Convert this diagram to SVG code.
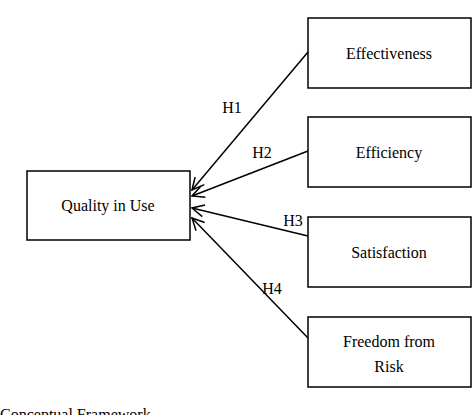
<svg xmlns="http://www.w3.org/2000/svg" width="474" height="415" viewBox="0 0 474 415">
<defs>
<style>
.b{fill:#fff;stroke:#000;stroke-width:1.5}
.t{font-family:"Liberation Serif",serif;font-size:16px;fill:#000;text-anchor:middle}
.c{stroke:#000;stroke-width:1.5;fill:none;marker-end:url(#a)}
</style>
<marker id="a" viewBox="0 0 14 14" refX="13" refY="7" markerWidth="14" markerHeight="14" markerUnits="userSpaceOnUse" orient="auto">
<path d="M1,1 L13,7 L1,13" fill="none" stroke="#000" stroke-width="1.5"/>
</marker>
</defs>
<g id="quality"><rect class="b" x="27" y="171" width="163" height="69"/><text class="t" x="108" y="211">Quality in Use</text></g>
<g id="effectiveness"><rect class="b" x="308" y="18" width="163" height="70"/><text class="t" x="389" y="59">Effectiveness</text></g>
<g id="efficiency"><rect class="b" x="308" y="117" width="163" height="70"/><text class="t" x="389" y="158">Efficiency</text></g>
<g id="satisfaction"><rect class="b" x="308" y="217" width="163" height="70"/><text class="t" x="389" y="258">Satisfaction</text></g>
<g id="freedom"><rect class="b" x="308" y="317" width="163" height="70"/><text class="t" x="389" y="347">Freedom from</text><text class="t" x="389" y="372">Risk</text></g>
<g id="connectors">
<line class="c" x1="308" y1="52" x2="192" y2="190"/>
<line class="c" x1="308" y1="151" x2="192" y2="196"/>
<line class="c" x1="308" y1="236" x2="192" y2="208"/>
<line class="c" x1="308" y1="338" x2="192" y2="218"/>
<text class="t" x="293" y="226">H3</text>
<text class="t" x="232" y="113">H1</text>
<text class="t" x="262" y="158">H2</text>
<text class="t" x="272" y="294">H4</text>
</g>
<text x="0" y="420" style="font-family:'Liberation Serif',serif;font-size:16px">Conceptual Framework</text>
</svg>
